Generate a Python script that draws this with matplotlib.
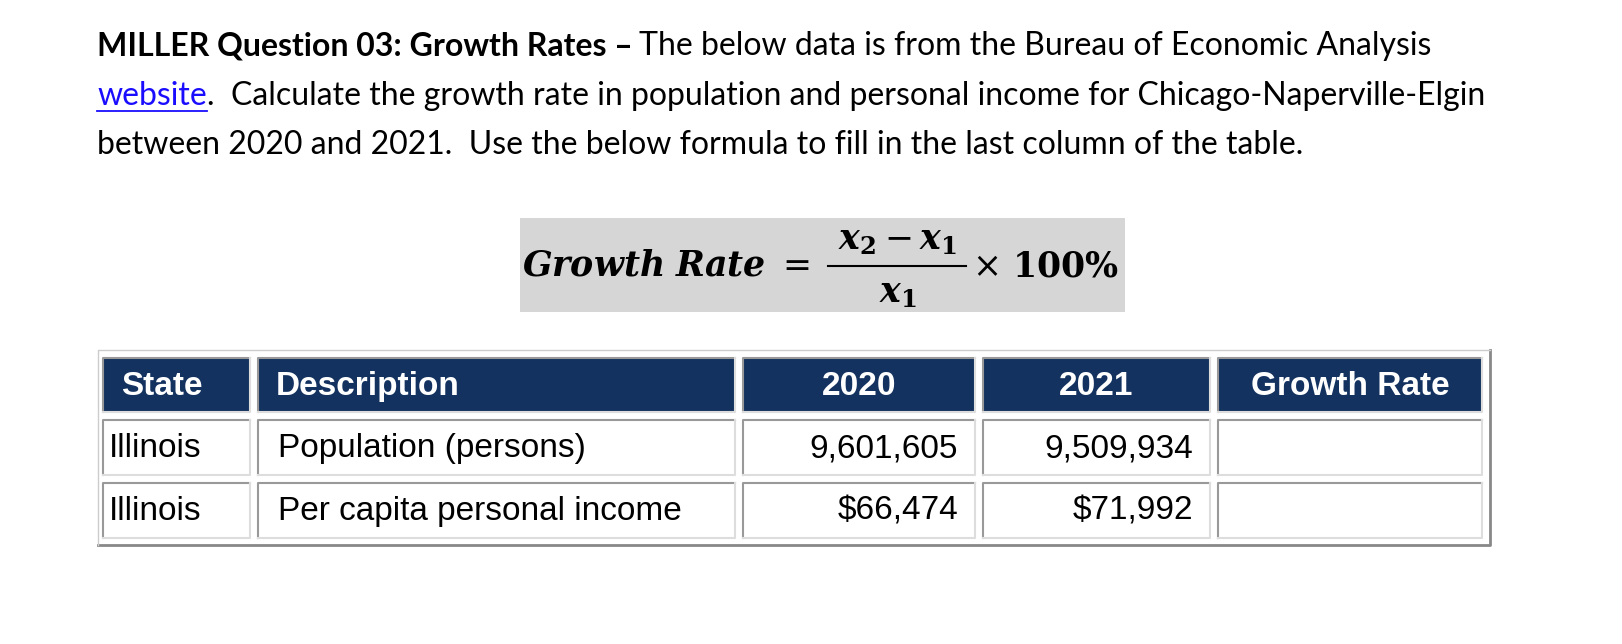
import matplotlib.pyplot as plt
from matplotlib.patches import Rectangle

headers = ['State', 'Description', '2020', '2021', 'Growth Rate']
states = ['Illinois', 'Illinois']
descriptions = ['Population (persons)', 'Per capita personal income']
values_2020 = ['9,601,605', '$66,474']
values_2021 = ['9,509,934', '$71,992']
growth = ['', '']

W, H = 1622, 644
fig = plt.figure(figsize=(W / 100, H / 100), dpi=100)
ax = fig.add_axes([0, 0, 1, 1])
ax.set_xlim(0, W)
ax.set_ylim(H, 0)
ax.axis('off')
r = fig.canvas.get_renderer()
inv = ax.transData.inverted()

body_font = ['Lato', 'DejaVu Sans']
fs = 23


def right_edge(t):
    bb = t.get_window_extent(renderer=r)
    return inv.transform((bb.x1, bb.y0))[0]


# paragraph
t = ax.text(97, 46, 'MILLER Question 03: Growth Rates –', fontsize=fs, fontweight='bold',
            family=body_font, va='center')
x = right_edge(t)
ax.text(x + 6, 46, 'The below data is from the Bureau of Economic Analysis', fontsize=fs,
        family=body_font, va='center')
t = ax.text(97, 96, 'website', fontsize=fs, family=body_font, va='center', color='#1a0dff')
x = right_edge(t)
ax.plot([97, x], [111, 111], color='#1a0dff', lw=1.3)
ax.text(x, 96, '.  Calculate the growth rate in population and personal income for Chicago-Naperville-Elgin',
        fontsize=fs, family=body_font, va='center')
ax.text(97, 145, 'between 2020 and 2021.  Use the below formula to fill in the last column of the table.',
        fontsize=fs, family=body_font, va='center')

# formula box
ax.add_patch(Rectangle((520, 218), 605, 94, color='#d6d6d6', lw=0))
plt.rcParams['mathtext.fontset'] = 'dejavuserif'
ax.text(522, 265, r'$\mathbfit{Growth\ Rate}\ =$', fontsize=25, va='center', ha='left')
ax.text(898, 240, r'$\mathbfit{x}_\mathbf{2}-\mathbfit{x}_\mathbf{1}$', fontsize=25, va='center', ha='center')
ax.plot([828, 966], [266, 266], color='black', lw=1.5)
ax.text(898, 293, r'$\mathbfit{x}_\mathbf{1}$', fontsize=25, va='center', ha='center')
ax.text(972, 266, r'$\times\ \mathbf{100\%}$', fontsize=25, va='center', ha='left')

# table
cols = [(103, 250), (258, 735), (743, 975), (983, 1210), (1218, 1482)]
rows = [(358, 412), (420, 475), (483, 538)]
ax.plot([98, 1490, 1490], [545, 545, 350], color='#888888', lw=2)
ax.plot([98, 98, 1490], [545, 350, 350], color='#cccccc', lw=1)
tab_font = ['Liberation Sans', 'DejaVu Sans']
tfs = 24
data = [headers] + [list(rw) for rw in zip(states, descriptions, values_2020, values_2021, growth)]
for ri, (y0, y1) in enumerate(rows):
    for ci, (x0, x1) in enumerate(cols):
        if ri == 0:
            ax.add_patch(Rectangle((x0, y0), x1 - x0, y1 - y0, color='#14325f', lw=0))
        ax.plot([x0, x0, x1], [y1, y0, y0], color='#999999', lw=1.5)
        ax.plot([x0, x1, x1], [y1, y1, y0], color='#dddddd', lw=1.5)
        txt = data[ri][ci]
        ym = (y0 + y1) / 2 + 1
        if ri == 0:
            ha = 'left' if ci < 2 else 'center'
            xp = x0 + 18 if ci < 2 else (x0 + x1) / 2
            ax.text(xp, ym, txt, color='white', fontsize=tfs, fontweight='bold',
                    family=tab_font, va='center', ha=ha)
        else:
            ha = 'left' if ci < 2 else 'right'
            xp = x0 + 6 if ci == 0 else (x0 + 20 if ci == 1 else x1 - 17)
            ax.text(xp, ym, txt, fontsize=tfs, family=tab_font, va='center', ha=ha)

fig.savefig('out.png', dpi=100, facecolor='white')
